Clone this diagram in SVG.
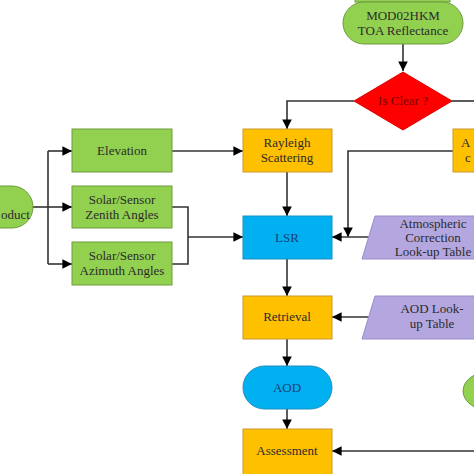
<svg xmlns="http://www.w3.org/2000/svg" width="474" height="474" viewBox="0 0 474 474">
<style>
text{font-family:"Liberation Serif","Times New Roman",serif;font-size:13px;text-anchor:middle;fill:#2b2b2b}
.g{fill:#92D050;stroke:#6f9b3c;stroke-width:1}
.o{fill:#FFC000;stroke:#c99a2e;stroke-width:1}
.b{fill:#00B0F0;stroke:#1a8fc0;stroke-width:1}
.p{fill:#B4A7E0;stroke:#9a8cc8;stroke-width:1}
.r{fill:#FF0000;stroke:#e00000;stroke-width:1}
.c{fill:none;stroke:#333;stroke-width:1.6}
.tb{fill:#1c3f73}
.tr{fill:#7a0000}
.st{text-anchor:start}
</style>
<defs>
<marker id="ah" viewBox="0 0 10 10" refX="10" refY="5" markerWidth="6" markerHeight="6" orient="auto" markerUnits="strokeWidth">
<path d="M0,0 L10,5 L0,10 Z" fill="#000"/>
</marker>
</defs>
<rect width="474" height="474" fill="#fff"/>
<g id="connectors">
<path class="c" d="M403,44 V71" marker-end="url(#ah)"/>
<path class="c" d="M354,101 H287 V129" marker-end="url(#ah)"/>
<path class="c" d="M452,101 H474"/>
<path class="c" d="M453,151 H348 V237" marker-end="url(#ah)"/>
<path class="c" d="M287,172 V216" marker-end="url(#ah)"/>
<path class="c" d="M370,237 H332" marker-end="url(#ah)"/>
<path class="c" d="M32,207 H48"/>
<path class="c" d="M48,151 V264"/>
<path class="c" d="M48,151 H72" marker-end="url(#ah)"/>
<path class="c" d="M48,207 H72" marker-end="url(#ah)"/>
<path class="c" d="M48,264 H72" marker-end="url(#ah)"/>
<path class="c" d="M172,151 H243" marker-end="url(#ah)"/>
<path class="c" d="M172,207 H188 V264 H172"/>
<path class="c" d="M188,237 H243" marker-end="url(#ah)"/>
<path class="c" d="M287,259 V296" marker-end="url(#ah)"/>
<path class="c" d="M370,317 H332" marker-end="url(#ah)"/>
<path class="c" d="M287,339 V366" marker-end="url(#ah)"/>
<path class="c" d="M287,409 V429" marker-end="url(#ah)"/>
<path class="c" d="M474,451 H332" marker-end="url(#ah)"/>
</g>
<g id="top-fragment"><rect class="g" x="355" y="-20" width="95" height="22"/></g>
<g id="mod02hkm">
<rect class="g" x="343" y="2" width="120" height="42" rx="21"/>
<text x="403" y="20">MOD02HKM</text>
<text x="403" y="35">TOA Reflectance</text>
</g>
<g id="isclear">
<polygon class="r" points="403,72 452,101 403,130 354,101"/>
<text class="tr" x="403" y="105">Is Clear ?</text>
</g>
<g id="right-box">
<rect class="o" x="453" y="129" width="40" height="43"/>
<text class="st" x="461" y="147">A</text>
<text class="st" x="465" y="162">c</text>
</g>
<g id="product">
<rect class="g" x="-60" y="186" width="93" height="42" rx="21"/>
<text class="st" x="1" y="219">oduct</text>
</g>
<g id="elevation">
<rect class="g" x="72" y="129" width="100" height="43"/>
<text x="122" y="155">Elevation</text>
</g>
<g id="zenith">
<rect class="g" x="72" y="186" width="100" height="42"/>
<text x="122" y="204">Solar/Sensor</text>
<text x="122" y="219">Zenith Angles</text>
</g>
<g id="azimuth">
<rect class="g" x="72" y="242" width="100" height="43"/>
<text x="122" y="260">Solar/Sensor</text>
<text x="122" y="275">Azimuth Angles</text>
</g>
<g id="rayleigh">
<rect class="o" x="243" y="129" width="89" height="43"/>
<text x="287" y="147">Rayleigh</text>
<text x="287" y="162">Scattering</text>
</g>
<g id="lsr">
<rect class="b" x="243" y="216" width="89" height="43"/>
<text class="tb" x="287" y="242">LSR</text>
</g>
<g id="atm-lut">
<polygon class="p" points="375,216 480,216 480,259 362,259"/>
<text x="433" y="228">Atmospheric</text>
<text x="433" y="242">Correction</text>
<text x="433" y="256">Look-up Table</text>
</g>
<g id="retrieval">
<rect class="o" x="243" y="296" width="89" height="43"/>
<text x="287" y="321">Retrieval</text>
</g>
<g id="aod-lut">
<polygon class="p" points="375,296 480,296 480,339 362,339"/>
<text x="432" y="313">AOD Look-</text>
<text x="432" y="328">up Table</text>
</g>
<g id="aod">
<rect class="b" x="243" y="366" width="89" height="43" rx="21.5"/>
<text class="tb" x="287" y="392">AOD</text>
</g>
<g id="assessment">
<rect class="o" x="243" y="429" width="89" height="50"/>
<text x="287" y="455">Assessment</text>
</g>
<g id="right-circle">
<ellipse class="g" cx="492" cy="391" rx="29" ry="20"/>
</g>
</svg>
